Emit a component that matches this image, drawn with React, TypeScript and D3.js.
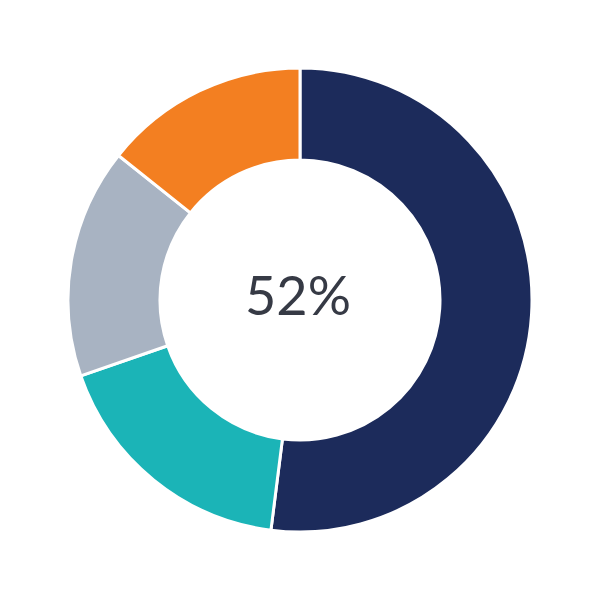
import * as d3 from "d3";

const labels = ["A", "B", "C", "D"];
const values = [52, 17.7, 16, 14.3];
const colors = ["#1c2b5b", "#1bb4b7", "#a8b3c2", "#f37f21"];
const centerLabel = "52%";

export default function App() {
  const width = 600;
  const height = 600;
  const cx = 300;
  const cy = 300;
  const outer = 232;
  const inner = 140;

  const pie = d3
    .pie<number>()
    .sort(null)
    .value((d) => d);
  const arcs = pie(values);
  const arc = d3.arc<d3.PieArcDatum<number>>().innerRadius(inner).outerRadius(outer);

  return (
    <svg
      width={width}
      height={height}
      style={{ position: "absolute", left: 0, top: 0, background: "#fff" }}
    >
      <g transform={`translate(${cx},${cy})`}>
        {arcs.map((a, i) => (
          <path
            key={labels[i]}
            d={arc(a)!}
            fill={colors[i]}
            stroke="#fff"
            strokeWidth={3}
          />
        ))}
        <text
          x={-2}
          y={15}
          textAnchor="middle"
          fontFamily="Lato, 'Open Sans', sans-serif"
          fontSize={54}
          fill="#363a45"
        >
          {centerLabel}
        </text>
      </g>
    </svg>
  );
}
